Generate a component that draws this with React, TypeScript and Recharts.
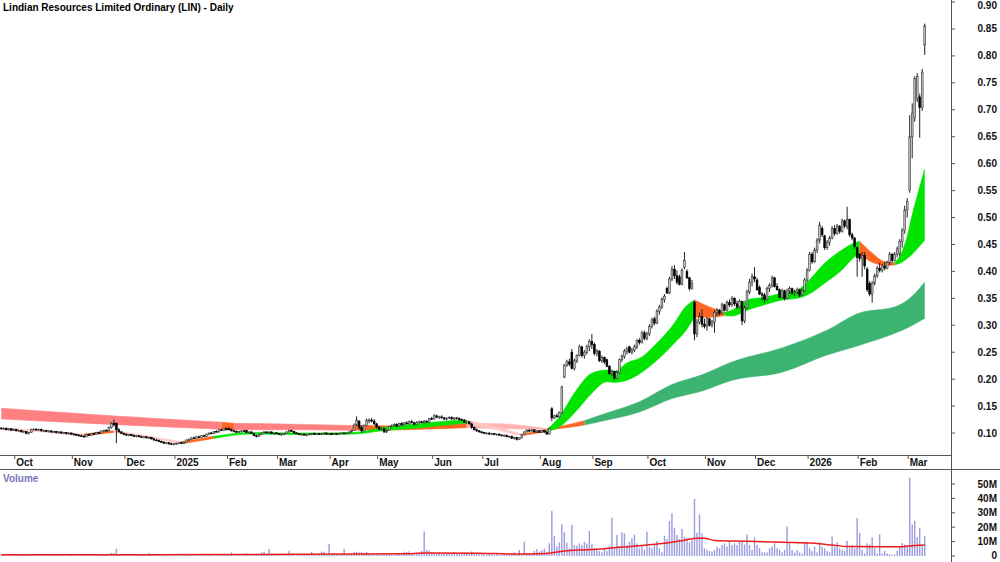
import React from "react";
import { ComposedChart, Bar, Area, Line, XAxis, YAxis } from "recharts";

// daily candles, prices in cents: [open, high, low, close]
const sep24 = [
  [10.9, 11.1, 10.7, 10.8], [10.8, 11.0, 10.6, 10.9], [10.9, 11.0, 10.5, 10.6], [10.6, 10.9, 10.5, 10.8],
  [10.8, 10.9, 10.4, 10.5], [10.5, 10.8, 10.4, 10.7],
];
const oct24 = [
  [10.7, 10.8, 10.3, 10.4], [10.4, 10.6, 10.2, 10.5], [10.5, 10.6, 10.1, 10.2], [10.2, 10.4, 10.0, 10.3],
  [10.3, 10.3, 9.8, 9.9], [9.9, 10.2, 9.7, 10.1], [10.1, 10.8, 10.0, 10.6], [10.6, 10.9, 10.5, 10.7],
  [10.7, 10.9, 10.5, 10.6], [10.6, 10.8, 10.4, 10.7], [10.7, 10.8, 10.3, 10.4], [10.4, 10.6, 10.2, 10.5],
  [10.5, 10.6, 10.2, 10.3], [10.3, 10.5, 10.1, 10.4], [10.4, 10.5, 10.0, 10.2], [10.2, 10.4, 10.0, 10.3],
  [10.3, 10.4, 9.9, 10.1], [10.1, 10.3, 9.9, 10.2], [10.2, 10.3, 9.8, 10.0], [10.0, 10.2, 9.8, 10.1],
  [10.1, 10.2, 9.7, 9.9], [9.9, 10.1, 9.7, 10.0], [10.0, 10.1, 9.6, 9.8],
];
const nov24 = [
  [9.8, 10.0, 9.6, 9.7], [9.7, 9.9, 9.5, 9.6], [9.6, 9.8, 9.4, 9.5], [9.5, 9.7, 9.3, 9.4],
  [9.4, 9.6, 9.2, 9.3], [9.3, 9.8, 9.2, 9.7], [9.7, 9.9, 9.5, 9.6], [9.6, 10.0, 9.5, 9.9],
  [9.9, 10.1, 9.7, 9.8], [9.8, 10.2, 9.7, 10.1], [10.1, 10.3, 9.9, 10.0], [10.0, 10.5, 9.9, 10.4],
  [10.4, 10.6, 10.2, 10.5], [10.5, 10.7, 10.3, 10.4], [10.4, 11.2, 10.3, 11.0], [11.0, 12.0, 10.8, 11.8],
  [11.8, 12.5, 11.2, 11.5], [11.8, 12.0, 8.1, 10.6], [10.6, 10.9, 10.1, 10.2], [10.2, 10.4, 9.8, 9.9],
  [9.9, 10.1, 9.6, 9.8],
];
const dec24 = [
  [9.8, 9.9, 9.5, 9.6], [9.6, 9.8, 9.4, 9.7], [9.7, 9.8, 9.4, 9.5], [9.5, 9.7, 9.3, 9.4],
  [9.4, 9.6, 9.2, 9.5], [9.5, 9.6, 9.2, 9.3], [9.3, 9.5, 9.1, 9.2], [9.2, 9.4, 9.0, 9.3],
  [9.3, 9.4, 9.0, 9.1], [9.1, 9.3, 8.9, 9.2], [9.2, 9.3, 8.8, 8.9], [8.9, 9.1, 8.6, 8.7],
  [8.7, 8.9, 8.5, 8.6], [8.6, 8.8, 8.3, 8.4], [8.4, 8.6, 8.2, 8.3], [8.3, 8.5, 8.0, 8.1],
  [8.1, 8.3, 7.9, 8.2], [8.2, 8.3, 7.8, 8.0], [8.0, 8.2, 7.8, 7.9], [7.9, 8.1, 7.7, 8.0],
];
const jan25 = [
  [8.0, 8.2, 7.8, 8.1], [8.1, 8.3, 7.9, 8.2], [8.2, 8.4, 8.0, 8.1], [8.1, 8.4, 8.0, 8.3],
  [8.3, 8.8, 8.2, 8.7], [8.7, 9.0, 8.5, 8.8], [8.8, 9.2, 8.7, 9.1], [9.1, 9.3, 8.9, 9.0],
  [9.0, 9.4, 8.9, 9.3], [9.3, 9.5, 9.1, 9.2], [9.2, 9.6, 9.1, 9.5], [9.5, 9.7, 9.3, 9.4],
  [9.4, 9.9, 9.3, 9.8], [9.8, 10.1, 9.6, 10.0], [10.0, 10.2, 9.8, 9.9], [9.9, 10.4, 9.8, 10.3],
  [10.3, 10.5, 10.1, 10.2], [10.2, 10.7, 10.1, 10.6], [10.6, 10.8, 10.4, 10.5], [10.5, 10.9, 10.4, 10.8],
  [10.8, 11.0, 10.5, 10.6],
];
const feb25 = [
  [10.9, 11.0, 10.5, 10.6], [10.6, 10.8, 10.3, 10.4], [10.4, 10.6, 10.1, 10.3], [10.3, 10.5, 10.0, 10.2],
  [10.2, 10.4, 10.0, 10.3], [10.3, 10.5, 10.1, 10.4], [10.4, 10.6, 10.2, 10.3], [10.5, 10.6, 10.0, 10.1],
  [10.1, 10.3, 9.9, 10.2], [10.2, 10.3, 9.8, 9.9], [9.9, 10.0, 9.4, 9.5], [9.5, 9.7, 9.2, 9.4],
  [9.4, 9.8, 9.3, 9.7], [9.7, 10.1, 9.6, 10.0], [10.0, 10.3, 9.9, 10.2], [10.2, 10.3, 9.9, 10.1],
  [10.1, 10.3, 9.9, 10.2], [10.2, 10.3, 9.8, 9.9], [9.9, 10.1, 9.7, 10.0], [10.0, 10.2, 9.8, 9.9],
];
const mar25 = [
  [9.9, 10.0, 9.6, 9.7], [9.7, 9.9, 9.5, 9.8], [9.8, 10.0, 9.6, 9.9], [9.9, 10.3, 9.8, 10.2],
  [10.2, 10.6, 10.1, 10.5], [10.5, 10.6, 10.2, 10.3], [10.3, 10.4, 9.9, 10.0], [10.0, 10.2, 9.8, 9.9],
  [9.9, 10.0, 9.6, 9.7], [9.7, 9.9, 9.5, 9.8], [9.8, 9.9, 9.5, 9.6], [9.6, 9.8, 9.4, 9.7],
  [9.7, 9.9, 9.6, 9.8], [9.8, 10.0, 9.6, 9.9], [9.9, 10.1, 9.7, 9.8], [9.8, 10.0, 9.6, 9.9],
  [9.9, 10.0, 9.7, 9.8], [9.8, 10.0, 9.6, 9.9], [9.9, 10.1, 9.7, 10.0], [10.0, 10.1, 9.7, 9.8],
  [9.8, 10.0, 9.6, 9.9],
];
const apr25 = [
  [9.9, 10.0, 9.6, 9.8], [9.8, 10.0, 9.7, 9.9], [9.9, 10.0, 9.7, 9.8], [9.8, 10.0, 9.7, 9.9],
  [9.9, 10.1, 9.8, 10.0], [10.0, 10.1, 9.8, 9.9], [9.9, 10.1, 9.8, 10.0], [10.0, 10.3, 9.9, 10.2],
  [10.2, 10.6, 10.1, 10.5], [10.5, 11.8, 10.4, 11.5], [11.5, 13.1, 11.3, 12.4], [12.2, 12.4, 10.6, 11.0],
  [11.0, 11.5, 10.0, 10.4], [10.4, 11.6, 10.3, 11.4], [11.4, 12.7, 11.3, 12.3], [12.3, 12.7, 11.8, 12.4],
  [12.4, 12.8, 12.0, 12.2], [12.2, 12.6, 11.5, 11.7], [11.7, 11.9, 10.9, 11.1],
];
const may25 = [
  [11.1, 11.3, 10.5, 10.7], [10.7, 11.0, 10.4, 10.8], [10.8, 11.0, 10.0, 10.2], [10.2, 10.6, 10.0, 10.5],
  [10.5, 11.3, 10.4, 11.2], [11.2, 11.6, 11.0, 11.4], [11.4, 11.8, 11.2, 11.6], [11.6, 11.8, 11.1, 11.3],
  [11.3, 11.9, 11.2, 11.8], [11.8, 12.0, 11.4, 11.5], [11.5, 12.0, 11.4, 11.9], [11.9, 12.2, 11.6, 11.7],
  [11.7, 12.3, 11.6, 12.1], [12.1, 12.4, 11.8, 11.9], [11.9, 12.1, 11.4, 11.6], [11.6, 12.2, 11.5, 12.0],
  [12.0, 12.3, 11.8, 12.1], [12.1, 12.3, 11.8, 11.9], [11.9, 12.4, 11.8, 12.2], [12.2, 12.4, 11.9, 12.0],
  [12.0, 12.8, 11.9, 12.7], [12.7, 13.0, 12.4, 12.6],
];
const jun25 = [
  [12.6, 13.5, 12.5, 13.2], [13.2, 13.4, 12.8, 12.9], [12.9, 13.2, 12.6, 13.0], [13.0, 13.3, 12.7, 12.8],
  [12.8, 13.0, 12.4, 12.6], [12.6, 12.9, 12.3, 12.8], [12.8, 13.1, 12.6, 12.9], [12.9, 13.1, 12.5, 12.6],
  [12.6, 12.9, 12.4, 12.8], [12.8, 13.0, 12.5, 12.7], [12.7, 12.9, 12.3, 12.5], [12.5, 12.7, 12.2, 12.4],
  [12.4, 12.6, 11.9, 12.0], [12.0, 12.3, 11.7, 12.1], [12.1, 12.2, 11.6, 11.7], [11.7, 11.9, 10.8, 11.0],
  [11.0, 11.2, 10.5, 10.6], [10.6, 10.8, 10.2, 10.4], [10.4, 10.6, 10.1, 10.2], [10.2, 10.4, 9.9, 10.1],
];
const jul25 = [
  [10.1, 10.2, 9.8, 9.9], [9.9, 10.1, 9.7, 10.0], [10.0, 10.1, 9.7, 9.8], [9.8, 10.0, 9.6, 9.9],
  [9.9, 10.0, 9.6, 9.7], [9.7, 9.9, 9.5, 9.8], [9.8, 9.9, 9.5, 9.6], [9.6, 9.8, 9.4, 9.5],
  [9.5, 9.7, 9.3, 9.6], [9.6, 9.7, 9.2, 9.3], [9.3, 9.5, 9.1, 9.4], [9.4, 9.5, 8.9, 9.0],
  [9.0, 9.3, 8.8, 9.2], [9.2, 9.3, 8.6, 8.8], [8.8, 9.2, 8.7, 9.1], [9.1, 9.8, 9.0, 9.7],
  [9.7, 10.3, 9.6, 10.2], [10.2, 10.7, 10.1, 10.5], [10.5, 10.8, 10.2, 10.4], [10.4, 10.7, 10.2, 10.6],
  [10.6, 10.7, 10.1, 10.2], [10.2, 10.5, 10.0, 10.4], [10.4, 10.5, 10.0, 10.1],
];
const aug25 = [
  [10.1, 10.6, 10.0, 10.5], [10.5, 10.6, 10.0, 10.2], [10.2, 10.3, 9.7, 9.8], [9.8, 11.0, 9.7, 10.8],
  [14.5, 14.8, 12.2, 12.8], [12.8, 13.4, 12.6, 13.2], [13.2, 13.6, 12.9, 13.0], [13.0, 14.0, 12.9, 13.8],
  [13.7, 18.8, 13.5, 18.5], [20.4, 22.8, 20.2, 22.6], [22.6, 23.6, 22.3, 23.2], [23.2, 23.8, 22.4, 22.8],
  [25.0, 25.6, 21.8, 22.0], [22.0, 23.8, 21.6, 23.4], [23.4, 24.6, 23.0, 24.4], [24.4, 26.4, 24.2, 26.0],
  [26.0, 26.2, 24.0, 24.4], [24.4, 25.4, 23.8, 25.0], [25.0, 26.4, 24.6, 26.0], [26.0, 27.4, 25.2, 27.0],
  [27.0, 28.4, 25.6, 26.4],
];
const sep25 = [
  [26.4, 26.8, 24.4, 24.8], [24.8, 25.6, 24.2, 25.2], [25.2, 25.4, 23.2, 23.4], [23.4, 24.4, 23.0, 24.0],
  [24.0, 24.2, 22.8, 23.2], [23.6, 23.8, 22.2, 22.4], [22.4, 22.6, 20.8, 21.0], [21.0, 21.8, 20.6, 21.4],
  [21.4, 21.6, 19.8, 20.2], [20.2, 21.6, 20.0, 21.2], [21.2, 23.8, 21.0, 23.6], [23.6, 24.6, 23.2, 24.2],
  [24.2, 25.6, 23.8, 25.2], [25.2, 26.0, 24.6, 25.6], [26.0, 26.2, 24.8, 25.0], [25.0, 25.8, 24.6, 25.4],
  [25.4, 26.4, 25.0, 26.0], [26.0, 27.4, 25.6, 27.2], [27.2, 27.6, 26.4, 26.8], [26.8, 29.0, 26.6, 28.6],
  [28.6, 29.0, 27.2, 27.6], [27.6, 28.8, 27.2, 28.4],
];
const oct25 = [
  [28.4, 30.2, 28.0, 29.8], [29.8, 31.4, 29.4, 31.0], [31.2, 31.6, 30.0, 30.4], [30.4, 33.0, 30.2, 32.6],
  [32.6, 33.8, 32.0, 33.4], [33.4, 35.2, 33.0, 34.8], [34.8, 35.8, 34.2, 35.4], [36.8, 37.2, 35.8, 36.0],
  [36.0, 39.0, 35.8, 38.6], [38.6, 41.0, 38.2, 40.4], [40.4, 41.2, 38.6, 39.2], [39.2, 40.2, 37.6, 38.0],
  [39.0, 39.4, 37.4, 37.6], [37.6, 40.6, 37.4, 40.2], [40.8, 43.6, 40.4, 42.0], [40.0, 40.4, 38.6, 38.8],
  [38.8, 39.0, 36.4, 36.8], [36.8, 38.4, 36.6, 37.8], [34.2, 34.6, 27.2, 28.4], [28.4, 31.2, 27.8, 30.6],
  [30.6, 32.4, 30.2, 31.6], [31.6, 33.0, 29.6, 30.2], [30.2, 31.2, 29.4, 29.8],
];
const nov25 = [
  [29.8, 31.6, 29.0, 31.2], [31.2, 31.4, 29.8, 30.0], [30.0, 31.0, 29.6, 30.6], [30.6, 32.8, 28.6, 32.4],
  [32.4, 33.2, 31.6, 32.8], [32.8, 33.0, 31.8, 32.2], [32.2, 34.2, 32.0, 33.8], [33.8, 34.0, 32.6, 32.8],
  [32.8, 34.6, 32.6, 34.2], [34.2, 34.8, 33.4, 33.8], [33.8, 35.4, 33.4, 35.0], [35.0, 35.2, 33.6, 34.0],
  [34.0, 34.6, 33.0, 33.4], [33.4, 34.8, 33.2, 34.4], [34.4, 34.6, 30.0, 30.8], [30.8, 33.6, 30.4, 33.2],
  [33.2, 36.6, 33.0, 36.2], [36.2, 38.6, 35.8, 38.0], [38.0, 39.6, 37.2, 39.0], [39.0, 40.8, 38.0, 38.6],
];
const dec25 = [
  [38.4, 38.8, 36.4, 36.6], [37.0, 37.4, 35.6, 35.8], [35.8, 36.2, 34.6, 35.6], [35.6, 36.0, 34.2, 34.8],
  [34.8, 37.2, 34.6, 36.8], [36.8, 37.8, 36.2, 37.4], [37.4, 39.2, 37.0, 38.8], [38.8, 39.0, 37.0, 37.2],
  [37.2, 37.8, 36.4, 36.6], [36.6, 36.8, 35.0, 35.2], [35.2, 36.8, 35.0, 36.4], [36.4, 36.6, 34.6, 35.0],
  [35.0, 36.8, 34.8, 36.4], [36.4, 37.2, 35.8, 36.8], [36.8, 37.0, 35.6, 36.0], [36.0, 36.6, 35.4, 36.2],
  [36.2, 37.0, 35.8, 36.6], [36.6, 36.8, 35.2, 35.6], [35.6, 36.8, 35.4, 36.4], [36.4, 38.8, 36.2, 38.4],
  [38.4, 40.6, 38.0, 40.2],
];
const jan26 = [
  [40.2, 43.6, 40.0, 43.2], [43.2, 43.6, 41.4, 41.8], [41.8, 44.4, 41.6, 44.0], [44.0, 46.2, 43.4, 45.8],
  [45.8, 49.2, 45.2, 48.6], [48.0, 48.4, 46.4, 46.8], [46.6, 46.8, 44.0, 44.4], [44.4, 45.8, 44.0, 45.4],
  [45.4, 46.6, 44.8, 46.2], [46.2, 48.4, 46.0, 48.0], [48.0, 48.6, 46.6, 47.0], [47.0, 48.8, 46.8, 48.4],
  [48.4, 48.6, 47.0, 47.4], [47.4, 49.8, 47.2, 49.4], [49.4, 49.6, 48.0, 48.4], [48.4, 52.0, 47.8, 49.6],
  [49.6, 49.8, 46.4, 46.8], [46.8, 47.2, 45.8, 46.2], [46.2, 46.4, 44.2, 44.6], [44.4, 44.6, 39.0, 42.6],
];
const feb26 = [
  [43.2, 43.4, 41.8, 42.4], [42.4, 43.6, 39.0, 43.0], [43.0, 43.6, 40.4, 41.0], [40.4, 40.8, 36.2, 36.6],
  [37.8, 38.2, 35.4, 35.8], [35.8, 38.2, 34.2, 37.8], [37.8, 39.6, 37.4, 39.2], [39.2, 41.0, 38.8, 40.6],
  [40.6, 41.6, 39.8, 40.2], [40.2, 41.4, 39.8, 41.0], [41.0, 41.8, 40.2, 40.6], [40.6, 42.0, 40.4, 41.6],
  [41.6, 43.6, 41.2, 43.2], [43.2, 43.4, 41.6, 42.0], [42.0, 43.6, 41.8, 43.2], [43.2, 44.6, 42.6, 44.2],
  [43.2, 46.0, 42.8, 45.6], [45.6, 48.0, 44.4, 47.6], [47.6, 52.2, 47.0, 51.4], [51.4, 53.6, 50.0, 53.0],
];
const mar26 = [
  [55.0, 69.0, 54.6, 65.0], [65.0, 71.2, 61.0, 69.4], [68.4, 76.2, 67.8, 75.8], [72.0, 76.8, 71.4, 76.2],
  [72.4, 73.0, 64.8, 70.4], [70.4, 77.6, 69.8, 77.0], [82.0, 86.0, 80.2, 85.6],
];

// daily volume, millions of shares
const volSep24 = [0.8, 0.6, 1.0, 0.5, 0.7, 0.9];
const volOct24 = [1.2, 0.8, 1.0, 0.6, 0.9, 1.5, 0.7, 0.8, 1.2, 0.6, 0.5, 0.9, 0.7, 0.6, 1.3, 0.8, 0.5, 0.7, 0.9, 0.6, 0.4, 1.0, 0.7];
const volNov24 = [0.6, 0.8, 0.5, 0.9, 0.7, 1.1, 0.6, 0.8, 0.5, 0.7, 1.0, 0.8, 0.6, 1.2, 1.5, 2.2, 2.0, 5.0, 1.4, 0.9, 0.7];
const volDec24 = [0.8, 0.6, 0.9, 0.5, 0.7, 0.6, 0.8, 1.0, 0.7, 2.0, 0.9, 0.6, 0.8, 1.1, 0.5, 0.7, 0.6, 0.4, 0.8, 0.6];
const volJan25 = [0.5, 0.7, 0.6, 0.9, 1.0, 1.5, 0.8, 0.7, 1.1, 0.6, 0.9, 1.2, 0.8, 1.0, 0.7, 1.5, 0.9, 1.1, 1.3, 0.8, 1.2];
const volFeb25 = [1.0, 2.5, 1.2, 0.8, 1.1, 0.9, 1.3, 2.0, 0.8, 1.0, 1.4, 0.9, 1.2, 2.5, 3.0, 1.1, 4.8, 1.3, 0.9, 1.0];
const volMar25 = [0.9, 1.1, 0.8, 1.3, 3.7, 1.5, 1.0, 0.8, 1.2, 0.9, 1.1, 0.7, 1.0, 2.8, 1.2, 0.9, 1.4, 3.0, 3.0, 1.1, 8.3];
const volApr25 = [1.5, 1.8, 1.0, 0.9, 1.2, 5.0, 1.4, 1.1, 1.6, 2.8, 3.0, 2.5, 2.6, 2.2, 2.8, 1.9, 1.5, 1.3, 1.6];
const volMay25 = [1.2, 1.5, 1.8, 1.3, 1.6, 1.4, 1.2, 1.7, 1.5, 1.3, 3.0, 2.8, 3.2, 1.9, 1.6, 1.4, 1.8, 3.5, 17.0, 4.2, 3.8, 2.2];
const volJun25 = [2.0, 1.8, 2.5, 1.6, 1.9, 2.2, 1.5, 1.7, 2.8, 1.6, 1.4, 2.0, 1.8, 2.4, 1.5, 3.2, 2.0, 1.6, 1.3, 1.5];
const volJul25 = [1.2, 1.0, 1.4, 0.9, 1.1, 1.3, 0.8, 1.0, 1.2, 0.9, 1.1, 1.4, 2.5, 1.3, 4.2, 1.8, 10.0, 2.2, 2.0, 1.6, 3.5, 4.8, 3.0];
const volAug25 = [4.0, 5.0, 3.0, 8.8, 31.3, 14.1, 6.5, 9.5, 22.0, 16.4, 9.3, 5.4, 21.5, 7.6, 7.2, 8.8, 7.6, 9.8, 8.6, 17.4, 8.0];
const volSep25 = [5.4, 4.2, 3.5, 2.5, 5.4, 3.5, 6.5, 26.6, 6.5, 14.6, 6.5, 16.4, 15.7, 7.6, 10.0, 12.3, 14.9, 8.8, 5.4, 7.6, 4.2, 16.9];
const volOct25 = [6.5, 5.4, 7.6, 10.4, 5.4, 2.5, 14.1, 11.8, 24.3, 29.6, 19.7, 14.6, 11.8, 18.8, 13.4, 12.3, 9.5, 11.0, 39.6, 16.2, 28.9, 15.7, 5.4];
const volNov25 = [4.2, 3.5, 3.0, 4.2, 6.5, 5.4, 7.6, 8.8, 6.5, 10.6, 7.6, 8.8, 7.6, 10.0, 10.4, 8.0, 15.0, 7.6, 4.2, 12.9];
const volDec25 = [7.6, 5.4, 2.5, 2.5, 2.5, 5.4, 6.5, 8.8, 5.4, 4.2, 2.5, 4.2, 20.6, 8.8, 4.2, 2.5, 4.2, 2.5, 1.8, 9.5, 10.0];
const volJan26 = [5.4, 3.5, 6.5, 2.5, 9.5, 6.5, 5.4, 3.5, 2.5, 13.6, 6.5, 9.5, 5.4, 4.2, 3.5, 10.5, 5.4, 7.6, 5.4, 26.4];
const volFeb26 = [16.0, 4.2, 1.8, 8.8, 8.0, 13.0, 5.4, 1.8, 15.0, 1.8, 3.5, 1.8, 1.2, 0.7, 1.2, 3.5, 6.5, 9.0, 8.0, 6.5];
const volMar26 = [54.4, 21.8, 24.4, 13.0, 19.5, 6.8, 13.8];

const months = [
  { label: "", days: sep24, vol: volSep24 },
  { label: "Oct", days: oct24, vol: volOct24 },
  { label: "Nov", days: nov24, vol: volNov24 },
  { label: "Dec", days: dec24, vol: volDec24 },
  { label: "2025", days: jan25, vol: volJan25 },
  { label: "Feb", days: feb25, vol: volFeb25 },
  { label: "Mar", days: mar25, vol: volMar25 },
  { label: "Apr", days: apr25, vol: volApr25 },
  { label: "May", days: may25, vol: volMay25 },
  { label: "Jun", days: jun25, vol: volJun25 },
  { label: "Jul", days: jul25, vol: volJul25 },
  { label: "Aug", days: aug25, vol: volAug25 },
  { label: "Sep", days: sep25, vol: volSep25 },
  { label: "Oct", days: oct25, vol: volOct25 },
  { label: "Nov", days: nov25, vol: volNov25 },
  { label: "Dec", days: dec25, vol: volDec25 },
  { label: "2026", days: jan26, vol: volJan26 },
  { label: "Feb", days: feb26, vol: volFeb26 },
  { label: "Mar", days: mar26, vol: volMar26 },
];

// moving average ribbons: [day index, low, high] in cents
const slowRibbon = [
  { trend: "down", pts: [[0, 12.6, 14.6], [44, 11.6, 13.2], [88, 10.7, 12.0]] },
  { trend: "flat", pts: [[88, 10.7, 12.0], [93, 10.6, 11.8]] },
  { trend: "down", pts: [[93, 10.6, 11.8], [120, 10.6, 11.6], [140, 10.5, 11.4]] },
  { trend: "flat", pts: [[140, 10.5, 11.4], [160, 10.6, 11.3], [186, 11.0, 11.8]] },
  { trend: "fade", pts: [[186, 11.0, 11.8], [200, 10.8, 11.7], [212, 10.7, 11.2], [218, 10.6, 10.8]] },
  { trend: "flat", pts: [[218, 10.6, 10.8], [226, 11.0, 11.5], [233, 11.5, 12.3]] },
  {
    trend: "up",
    pts: [[233, 11.5, 12.3], [242, 12.4, 13.7], [255, 13.9, 15.8], [268, 16.4, 19.0], [280, 17.8, 20.8], [292, 19.8, 23.2],
      [312, 21.3, 25.8], [330, 24.5, 29.1], [343, 26.3, 32.3], [357, 28.5, 33.4], [362, 29.5, 34.6], [369, 31.3, 38.0]],
  },
];
const fastRibbon = [
  { trend: "fade", pts: [[0, 10.6, 10.9], [16, 10.2, 10.5], [33, 9.5, 9.8]] },
  { trend: "flat", pts: [[33, 9.5, 9.8], [45, 10.1, 10.4]] },
  { trend: "fade", pts: [[45, 10.1, 10.4], [58, 9.2, 9.5], [72, 8.0, 8.4]] },
  { trend: "flat", pts: [[72, 8.0, 8.4], [85, 9.0, 9.4]] },
  {
    trend: "up",
    pts: [[85, 9.0, 9.4], [100, 9.8, 10.1], [120, 9.7, 10.0], [141, 9.8, 10.1], [152, 10.4, 11.0], [168, 11.0, 11.8],
      [180, 11.6, 12.3], [186, 11.8, 12.4]],
  },
  { trend: "fade", pts: [[186, 11.8, 12.4], [196, 10.8, 11.3], [208, 9.5, 9.8]] },
  { trend: "flat", pts: [[208, 9.5, 9.8], [218, 10.3, 10.6]] },
  {
    trend: "up",
    pts: [[218, 10.3, 10.6], [223, 11.1, 13.0], [229, 13.7, 17.4], [236, 17.4, 21.1], [242, 19.5, 21.7], [245, 19.4, 21.4],
      [250, 19.8, 23.0], [256, 21.3, 24.1], [262, 23.5, 26.7], [269, 26.7, 30.4], [273, 28.7, 33.2], [277, 31.5, 34.7]],
  },
  { trend: "flat", pts: [[277, 31.5, 34.7], [283, 31.5, 33.4], [289, 31.8, 32.4]] },
  {
    trend: "up",
    pts: [[289, 31.8, 32.4], [292, 31.7, 32.8], [298, 32.8, 34.7], [305, 33.8, 35.2], [312, 34.7, 36.0], [318, 35.0, 36.5],
      [322, 35.6, 38.0], [329, 37.8, 41.5], [336, 40.3, 44.0], [341, 42.7, 45.3], [343, 43.2, 45.6]],
  },
  { trend: "flat", pts: [[343, 43.2, 45.6], [348, 41.7, 43.4], [353, 41.1, 41.8], [357, 41.2, 41.6]] },
  { trend: "up", pts: [[357, 41.2, 41.6], [359, 41.5, 42.8], [362, 42.4, 46.5], [364, 43.2, 50.5], [366, 44.2, 54.0], [369, 45.8, 59.0]] },
];

// volume moving average: [day index, millions]
const volumeAvg = [
  [0, 0.8], [60, 0.9], [120, 1.2], [160, 1.5], [170, 2.0], [190, 1.9], [205, 1.4], [218, 1.8], [225, 3.5], [231, 4.2],
  [238, 4.6], [245, 5.8], [251, 6.5], [258, 7.6], [265, 8.8], [271, 10.4], [278, 12.3], [281, 12.3], [285, 10.8],
  [298, 10.2], [312, 9.5], [325, 8.8], [332, 7.6], [338, 6.6], [352, 6.5], [360, 6.5], [364, 7.2], [369, 7.6],
];

const priceTicks = [10, 15, 20, 25, 30, 35, 40, 45, 50, 55, 60, 65, 70, 75, 80, 85, 90];
const volumeTicks = [0, 10, 20, 30, 40, 50];

const W = 1000;
const PLOT_W = 951;
const PRICE_H = 469;
const AXIS_H = 14;
const VOL_TOP = 469;
const VOL_H = 93;
const LABEL_RIGHT = 997;
const PAD_DAYS = 10;

const FAST_COLORS: Record<string, string> = { up: "#00e400", flat: "#ff6624", fade: "#ffc6c6" };
const SLOW_COLORS: Record<string, string> = { up: "#3cb371", flat: "#ff6624", down: "#ff8080", fade: "#ffb4b4" };
const AXIS_GREY = "#555";
const font = { fontFamily: "'Liberation Sans', Arial, sans-serif", fontWeight: 700, fontSize: 10 };

const rows: any[] = [];
const monthTicks: number[] = [];
const tickLabel: Record<number, string> = {};
months.forEach((m) => {
  m.days.forEach((d, k) => {
    const i = rows.length;
    if (k === 0 && m.label) {
      monthTicks.push(i);
      tickLabel[i] = m.label;
    }
    rows.push({ i, o: d[0], h: d[1], l: d[2], c: d[3], v: m.vol[k] });
  });
});
for (let k = 0; k < PAD_DAYS; k++) rows.push({ i: rows.length });
slowRibbon.forEach((seg, s) => seg.pts.forEach(([i, lo, hi]) => (rows[i]["s" + s] = [lo, hi])));
fastRibbon.forEach((seg, s) => seg.pts.forEach(([i, lo, hi]) => (rows[i]["f" + s] = [lo, hi])));
volumeAvg.forEach(([i, m]) => (rows[i].vma = m));

const Candle = (props: any) => {
  const { x, y, width, height, payload } = props;
  if (!payload || payload.h == null || !isFinite(y)) return null;
  const { o, h, l, c } = payload;
  const span = h - l || 1;
  const py = (v: number) => y + ((h - v) / span) * height;
  const cx = x + width / 2;
  const up = c >= o;
  const top = py(Math.max(o, c));
  const bot = py(Math.min(o, c));
  return (
    <g>
      <line x1={cx} x2={cx} y1={y} y2={y + height} stroke="#222" strokeWidth={1} />
      <rect
        x={cx - 0.9}
        y={top}
        width={1.8}
        height={Math.max(bot - top, 0.8)}
        fill={up ? "#c4c4c4" : "#000"}
        stroke={up ? "#3a3a3a" : "#000"}
        strokeWidth={0.6}
      />
    </g>
  );
};

const VolumeBar = (props: any) => {
  const { x, y, width, height } = props;
  if (!isFinite(y) || !height) return null;
  return <rect x={x + width / 2 - 0.7} y={y} width={1.4} height={height} fill="#9c9ce0" />;
};

const MonthTick = (props: any) => {
  const { x, payload } = props;
  return (
    <g>
      <line x1={x - 1.5} x2={x - 1.5} y1={455} y2={459} stroke={AXIS_GREY} />
      <text x={x} y={466} style={font} fill="#111">
        {tickLabel[payload.value]}
      </text>
    </g>
  );
};

const PriceTick = (props: any) => {
  const { y, payload } = props;
  return (
    <g>
      <line x1={PLOT_W} x2={PLOT_W + 4} y1={y} y2={y} stroke={AXIS_GREY} />
      <text x={LABEL_RIGHT} y={Math.max(y + 3.5, 8.5)} textAnchor="end" style={font} fill="#111">
        {(payload.value / 100).toFixed(2)}
      </text>
    </g>
  );
};

const VolumeTick = (props: any) => {
  const { y, payload } = props;
  return (
    <g>
      <line x1={PLOT_W} x2={PLOT_W + 4} y1={y} y2={y} stroke={AXIS_GREY} />
      <text x={LABEL_RIGHT} y={y + 3.5} textAnchor="end" style={font} fill="#111">
        {payload.value === 0 ? "0" : payload.value + "M"}
      </text>
    </g>
  );
};

export default function App() {
  return (
    <div style={{ position: "absolute", left: 0, top: 0, width: W, height: 562, background: "#fff", overflow: "hidden" }}>
      <div style={{ position: "absolute", left: 0, top: 0 }}>
        <ComposedChart width={W} height={PRICE_H} data={rows} margin={{ top: 0, right: 0, bottom: 0, left: 0 }}>
          <XAxis
            dataKey="i"
            type="category"
            ticks={monthTicks}
            interval={0}
            tick={<MonthTick />}
            tickLine={false}
            axisLine={false}
            height={AXIS_H}
          />
          <YAxis
            orientation="right"
            type="number"
            domain={[5.92, 90.38]}
            allowDataOverflow
            ticks={priceTicks}
            interval={0}
            width={W - PLOT_W}
            tick={<PriceTick />}
            tickLine={false}
            axisLine={false}
          />
          {slowRibbon.map((seg, s) => (
            <Area
              key={"s" + s}
              dataKey={"s" + s}
              type="monotone"
              connectNulls
              stroke={SLOW_COLORS[seg.trend]}
              strokeWidth={0.6}
              fill={SLOW_COLORS[seg.trend]}
              fillOpacity={1}
              dot={false}
              activeDot={false}
              isAnimationActive={false}
            />
          ))}
          {fastRibbon.map((seg, s) => (
            <Area
              key={"f" + s}
              dataKey={"f" + s}
              type="monotone"
              connectNulls
              stroke={FAST_COLORS[seg.trend]}
              strokeWidth={0.6}
              fill={FAST_COLORS[seg.trend]}
              fillOpacity={1}
              dot={false}
              activeDot={false}
              isAnimationActive={false}
            />
          ))}
          <Bar
            dataKey={(d: any) => (d.h == null ? null : [d.l, d.h])}
            shape={(p: any) => <Candle {...p} />}
            isAnimationActive={false}
          />
        </ComposedChart>
      </div>
      <div style={{ position: "absolute", left: 0, top: VOL_TOP }}>
        <ComposedChart width={W} height={VOL_H} data={rows} margin={{ top: 0, right: 0, bottom: 0, left: 0 }}>
          <XAxis dataKey="i" hide />
          <YAxis
            orientation="right"
            type="number"
            domain={[-4.17, 60.42]}
            allowDataOverflow
            ticks={volumeTicks}
            interval={0}
            width={W - PLOT_W}
            tick={<VolumeTick />}
            tickLine={false}
            axisLine={false}
          />
          <Bar dataKey="v" shape={(p: any) => <VolumeBar {...p} />} isAnimationActive={false} />
          <Line
            dataKey="vma"
            type="monotone"
            connectNulls
            stroke="#ee1c1c"
            strokeWidth={1.5}
            dot={false}
            activeDot={false}
            isAnimationActive={false}
          />
        </ComposedChart>
      </div>
      <svg width={W} height={562} style={{ position: "absolute", left: 0, top: 0, pointerEvents: "none" }}>
        <line x1={0} x2={PLOT_W} y1={455.5} y2={455.5} stroke={AXIS_GREY} />
        <line x1={0} x2={W} y1={469.5} y2={469.5} stroke={AXIS_GREY} />
        <line x1={PLOT_W + 0.5} x2={PLOT_W + 0.5} y1={0} y2={562} stroke={AXIS_GREY} />
        <text x={3} y={11} style={font} fill="#000">
          Lindian Resources Limited Ordinary (LIN) - Daily
        </text>
        <text x={3} y={482} style={font} fill="#7676c0">
          Volume
        </text>
      </svg>
    </div>
  );
}
